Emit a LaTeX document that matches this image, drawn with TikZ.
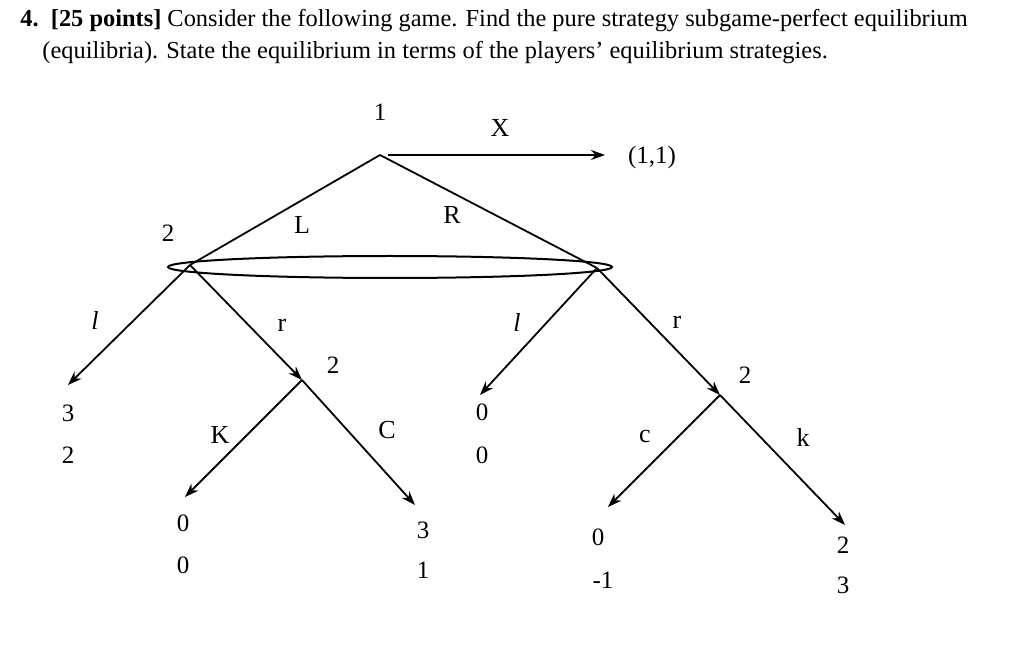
\documentclass[tikz,border=0pt]{standalone}
\usepackage{fontspec}
\setmainfont{Liberation Serif}
\usetikzlibrary{arrows.meta}
\begin{document}
\begin{tikzpicture}[x=0.5pt,y=-0.5pt,
  edge/.style={line width=0.9pt},
  arr/.style={line width=0.9pt,-{Stealth[length=7pt,width=5pt]}},
  lab/.style={font=\fontsize{13}{15}\selectfont,inner sep=0pt},
  pay/.style={font=\fontsize{12.5}{15}\selectfont,inner sep=0pt}]
\useasboundingbox (0,0) rectangle (1024,663);
\node[anchor=west,font=\fontsize{12.2}{14}\selectfont,inner sep=0pt] (t1) at (20,21) {\textbf{4.\ \ [25 points]} Consider the following game. Find the pure strategy subgame-perfect equilibrium};
\node[anchor=west,font=\fontsize{12.2}{14}\selectfont,inner sep=0pt] (t2) at (42,53) {(equilibria). State the equilibrium in terms of the players’ equilibrium strategies.};
\coordinate (root) at (380,155);
\coordinate (n2) at (190,265);
\coordinate (n3) at (597,268);
\coordinate (c2) at (302,380);
\coordinate (c3) at (720,395);
\coordinate (xend) at (605,155);
\draw[arr] (root) ++(8,0) -- (xend);
\node[pay] (o11) at (652,157) {(1,1)};
\node[lab] (lX) at (500,128) {X};
\node[pay] (p1) at (380,112) {1};
\draw[edge] (root) -- (n2);
\draw[edge] (root) -- (n3);
\draw[line width=1pt] (390,267) ellipse (222 and 11);
\node[lab] (lL) at (302,225) {L};
\node[lab] (lR) at (452,215) {R};
\node[pay] (p2a) at (168,233) {2};
% left subtree
\coordinate (a1) at (68,385);
\draw[arr] (n2) -- (a1);
\node[lab] (ll1) at (95,320) {\itshape l};
\node[pay] (q1) at (68,413) {3};
\node[pay] (q2) at (68,455) {2};
\draw[arr] (n2) -- (c2);
\node[lab] (lr1) at (282,325) {r};
\node[pay] (p2b) at (333,365) {2};
\coordinate (a2) at (185,497);
\draw[arr] (c2) -- (a2);
\node[lab] (lK) at (220,435) {K};
\node[pay] (q3) at (183,523) {0};
\node[pay] (q4) at (183,565) {0};
\coordinate (a3) at (415,505);
\draw[arr] (c2) -- (a3);
\node[lab] (lC) at (387,430) {C};
\node[pay] (q5) at (423,530) {3};
\node[pay] (q6) at (423,570) {1};
% right subtree
\coordinate (a4) at (480,395);
\draw[arr] (n3) -- (a4);
\node[lab] (ll2) at (517,322) {\itshape l};
\node[pay] (q7) at (482,412) {0};
\node[pay] (q8) at (482,455) {0};
\draw[arr] (n3) -- (c3);
\node[lab] (lr2) at (677,322) {r};
\node[pay] (p2c) at (745,375) {2};
\coordinate (a5) at (608,507);
\draw[arr] (c3) -- (a5);
\node[lab] (lc) at (645,437) {c};
\node[pay] (q9) at (598,537) {0};
\node[pay] (q10) at (603,580) {-1};
\coordinate (a6) at (845,525);
\draw[arr] (c3) -- (a6);
\node[lab] (lk) at (803,437) {k};
\node[pay] (q11) at (843,545) {2};
\node[pay] (q12) at (843,585) {3};
\end{tikzpicture}
\end{document}
